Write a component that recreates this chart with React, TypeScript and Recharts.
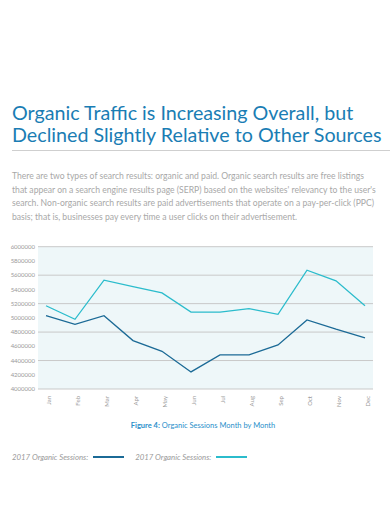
import { LineChart, Line, XAxis, YAxis, CartesianGrid } from "recharts";

const months = ["Jan", "Feb", "Mar", "Apr", "May", "Jun", "Jul", "Aug", "Sep", "Oct", "Nov", "Dec"];
const sessionsDark = [5030000, 4910000, 5030000, 4680000, 4530000, 4240000, 4480000, 4480000, 4620000, 4970000, 4840000, 4720000];
const sessionsLight = [5170000, 4980000, 5530000, 5440000, 5350000, 5080000, 5080000, 5130000, 5050000, 5670000, 5520000, 5170000];
const yTicks = [4000000, 4200000, 4400000, 4600000, 4800000, 5000000, 5200000, 5400000, 5600000, 5800000, 6000000];

const legendLabels = ["2017 Organic Sessions:", "2017 Organic Sessions:"];

const DARK = "#1b6a96";
const LIGHT = "#2bbccc";
const FONT = "Lato, 'Open Sans', sans-serif";

const data = months.map((m, i) => ({ month: m, dark: sessionsDark[i], light: sessionsLight[i] }));

function MonthTick(props: any) {
  const { x, y, payload } = props;
  const tx = x + 3;
  const ty = y;
  return (
    <text
      x={tx}
      y={ty}
      transform={`rotate(-90, ${tx}, ${ty})`}
      textAnchor="end"
      dy="0.35em"
      fontSize={6}
      fill="#999"
      fontFamily={FONT}
    >
      {payload.value}
    </text>
  );
}

export default function App() {
  return (
    <div style={{ position: "fixed", left: 0, top: 0, width: 390, height: 505, background: "#fff", fontFamily: FONT, overflow: "hidden" }}>
      <div
        style={{
          position: "absolute",
          left: 12,
          top: 102,
          fontSize: 19.7,
          lineHeight: "22px",
          color: "#1a7db4",
          whiteSpace: "nowrap",
        }}
      >
        Organic Traffic is Increasing Overall, but
        <br />
        Declined Slightly Relative to Other Sources
      </div>
      <div style={{ position: "absolute", left: 12, top: 150, width: 378, height: 1, background: "#cfcfcf" }} />
      <div
        style={{
          position: "absolute",
          left: 12,
          top: 170,
          fontSize: 8.6,
          lineHeight: "13.5px",
          color: "#a8a8a8",
          whiteSpace: "nowrap",
        }}
      >
        There are two types of search results: organic and paid. Organic search results are free listings
        <br />
        that appear on a search engine results page (SERP) based on the websites' relevancy to the user's
        <br />
        search. Non-organic search results are paid advertisements that operate on a pay-per-click (PPC)
        <br />
        basis; that is, businesses pay every time a user clicks on their advertisement.
      </div>

      <div style={{ position: "absolute", left: 0, top: 240 }}>
        <LineChart width={390} height={180} data={data} margin={{ top: 6.7, right: 17, left: 0, bottom: 6 }}>
          <CartesianGrid vertical={false} fill="#eef7f9" stroke="#c9c9c9" strokeWidth={1} />
          <XAxis
            dataKey="month"
            axisLine={false}
            tickLine={false}
            tickSize={0}
            tickMargin={7}
            height={25}
            padding={{ left: 8, right: 8 }}
            interval={0}
            tick={<MonthTick />}
          />
          <YAxis
            domain={[4000000, 6000000]}
            ticks={yTicks}
            width={38}
            axisLine={false}
            tickLine={false}
            tickSize={0}
            tickMargin={3}
            tick={{ fontSize: 6, fill: "#999", fontFamily: FONT }}
          />
          <Line type="linear" dataKey="dark" stroke={DARK} strokeWidth={1.3} dot={false} isAnimationActive={false} />
          <Line type="linear" dataKey="light" stroke={LIGHT} strokeWidth={1.3} dot={false} isAnimationActive={false} />
        </LineChart>
      </div>

      <div
        style={{
          position: "absolute",
          left: 0,
          width: 406,
          top: 421,
          textAlign: "center",
          fontSize: 7.5,
          color: "#2a8fca",
          whiteSpace: "nowrap",
        }}
      >
        <span style={{ fontWeight: 700 }}>Figure 4:</span> Organic Sessions Month by Month
      </div>

      <div style={{ position: "absolute", left: 12, top: 452, display: "flex", alignItems: "center", fontSize: 7.8, color: "#9a9a9a", fontStyle: "italic", whiteSpace: "nowrap" }}>
        <span>{legendLabels[0]}</span>
        <span style={{ display: "inline-block", width: 31, height: 1.3, background: DARK, marginLeft: 5, marginRight: 11 }} />
        <span>{legendLabels[1]}</span>
        <span style={{ display: "inline-block", width: 31, height: 1.3, background: LIGHT, marginLeft: 5 }} />
      </div>
    </div>
  );
}
